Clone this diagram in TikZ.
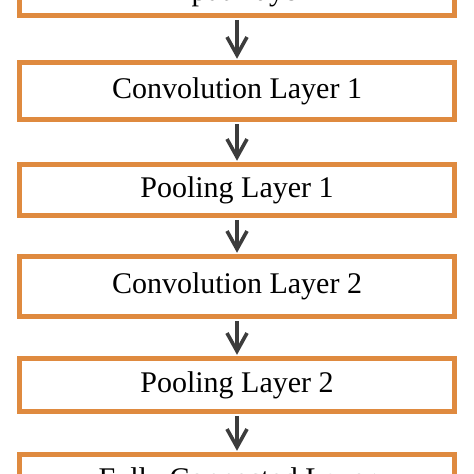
\documentclass[tikz,border=0pt]{standalone}
\usepackage{fontspec}
\setmainfont{Liberation Serif}
\usetikzlibrary{arrows.meta}
\definecolor{boxorange}{HTML}{DF8A3F}
\definecolor{arrowgray}{HTML}{3C3C3C}
\begin{document}
\begin{tikzpicture}[x=1pt,y=1pt,
  layerbox/.style={draw=boxorange, line width=4.5pt, fill=white,
    minimum width=435pt, inner sep=0pt, font=\fontsize{30}{36}\selectfont},
  flowarrow/.style={draw=arrowgray, line width=3.6pt,
    -{Straight Barb[length=18pt,width=20pt]}, shorten >=1.5pt, shorten <=2pt}]
\useasboundingbox (0,0) rectangle (474,-474);
\node[layerbox, minimum height=44pt] (in) at (237,6.5) {Input Layer};
\node[layerbox, minimum height=57pt] (c1) at (237,-91) {Convolution Layer 1};
\node[layerbox, minimum height=51pt] (p1) at (237,-190) {Pooling Layer 1};
\node[layerbox, minimum height=60pt] (c2) at (237,-286.5) {Convolution Layer 2};
\node[layerbox, minimum height=53pt] (p2) at (237,-385) {Pooling Layer 2};
\node[layerbox, minimum height=53pt] (fc) at (237,-481) {Fully Connected Layer};
\draw[flowarrow] (in.south) -- (c1.north);
\draw[flowarrow] (c1.south) -- (p1.north);
\draw[flowarrow] (p1.south) -- (c2.north);
\draw[flowarrow] (c2.south) -- (p2.north);
\draw[flowarrow] (p2.south) -- (fc.north);
\end{tikzpicture}
\end{document}
